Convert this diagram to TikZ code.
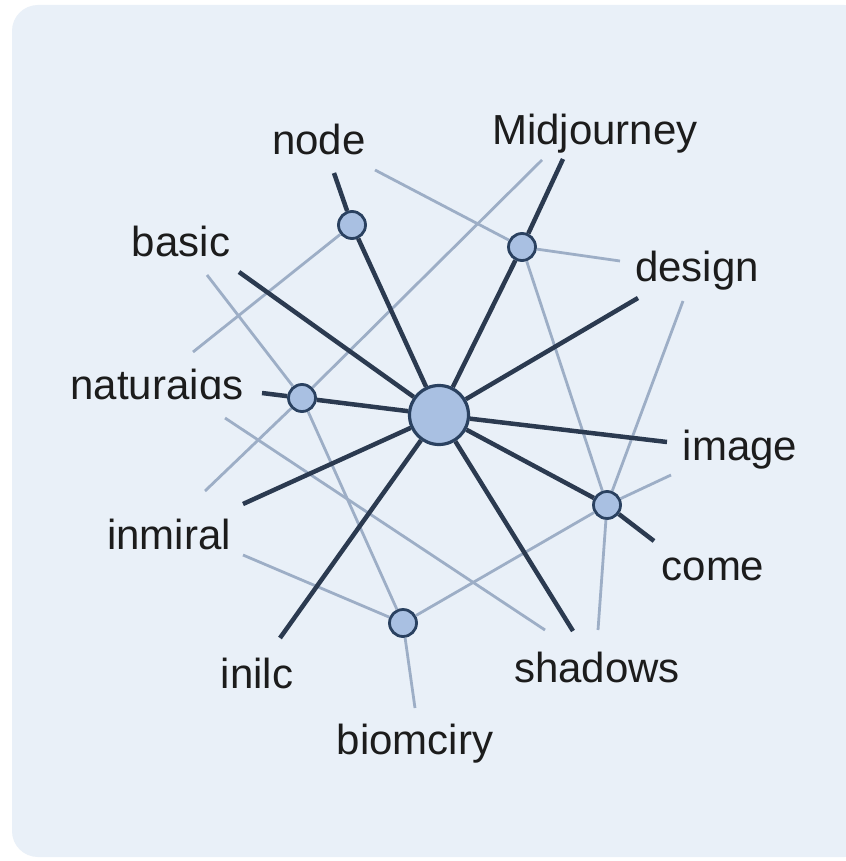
\documentclass[tikz,border=0pt]{standalone}
\usepackage{fontspec}
\setmainfont{Liberation Sans}
\usetikzlibrary{positioning}
\definecolor{netBg}{HTML}{E9F0F8}
\definecolor{netFill}{HTML}{A9C0E2}
\definecolor{netRim}{HTML}{2A4160}
\definecolor{netDark}{HTML}{2B3A50}
\definecolor{netLight}{HTML}{9DAEC6}
\definecolor{netInk}{HTML}{1C1C1C}

\begin{document}
\begin{tikzpicture}[x=1pt,y=-1pt,
  hub/.style={circle,draw=netRim,fill=netFill,line width=3.2pt,
              minimum size=59pt,inner sep=0pt},
  knot/.style={circle,draw=netRim,fill=netFill,line width=2.8pt,
               minimum size=27pt,inner sep=0pt},
  word/.style={anchor=base,inner sep=0pt,text=netInk,
               font=\fontsize{42}{50}\selectfont},
  spoke/.style={draw=netDark,line width=4.5pt},
  thread/.style={draw=netLight,line width=2.8pt},
]
\useasboundingbox (0,0) rectangle (845,861);
\fill[white] (0,0) rectangle (845,861);
\fill[netBg,rounded corners=26pt] (12,5) rectangle (870,857);

% hubs
\node[hub]  (core) at (439,415) {};
\node[knot] (kA) at (352,225) {};
\node[knot] (kB) at (522,247) {};
\node[knot] (kC) at (302,398) {};
\node[knot] (kD) at (607,505) {};
\node[knot] (kE) at (403,623) {};

% labels
\node[word] (tNode)  at (319,155) {node};
\node[word] (tMid)   at (595,145) {Midjourney};
\node[word] (tBasic) at (181,256) {basic};
\node[word] (tDes)   at (697,281) {design};
\node[word] (tNat)   at (157,399) {naturaiɑs};
\node[word] (tImg)   at (740,460) {image};
\node[word] (tInm)   at (169,549) {inmiral};
\node[word] (tCome)  at (713,580) {come};
\node[word] (tInilc) at (257,688) {inilc};
\node[word] (tShad)  at (597,682) {shadows};
\node[word] (tBio)   at (415,754) {biomciry};

% free ends
\coordinate (eNode) at (334,173);
\coordinate (eMid)  at (563,159);
\coordinate (eDes)  at (638,298);
\coordinate (eImg)  at (667,442);
\coordinate (eCome) at (654,541);
\coordinate (eShad) at (573,631);
\coordinate (eInil) at (280,638);
\coordinate (eInm)  at (243,504);
\coordinate (eNat)  at (262,393);
\coordinate (eBas)  at (239,272);
\coordinate (fA)  at (193,352);
\coordinate (fB1) at (375,170);
\coordinate (fB2) at (620,261);
\coordinate (fC1) at (542,160);
\coordinate (fC2) at (205,491);
\coordinate (fD1) at (207,275);
\coordinate (fD2) at (415,708);
\coordinate (fE1) at (225,418);
\coordinate (fE2) at (545,630);
\coordinate (fF1) at (243,555);
\coordinate (fF2) at (671,475);
\coordinate (fG)  at (683,301);
\coordinate (fH)  at (598,630);

% light threads
\draw[thread] (kA) -- (fA);
\draw[thread] (fB1) -- (kB);
\draw[thread] (kB) -- (fB2);
\draw[thread] (fC1) -- (kC);
\draw[thread] (kC) -- (fC2);
\draw[thread] (fD1) -- (kC);
\draw[thread] (kC) -- (kE);
\draw[thread] (kE) -- (fD2);
\draw[thread] (fE1) -- (fE2);
\draw[thread] (fF1) -- (kE);
\draw[thread] (kE) -- (kD);
\draw[thread] (kD) -- (fF2);
\draw[thread] (kB) -- (kD);
\draw[thread] (fG) -- (kD);
\draw[thread] (kD) -- (fH);

% dark spokes
\draw[spoke] (core) -- (kA);
\draw[spoke] (kA) -- (eNode);
\draw[spoke] (core) -- (kB);
\draw[spoke] (kB) -- (eMid);
\draw[spoke] (core) -- (eDes);
\draw[spoke] (core) -- (eImg);
\draw[spoke] (core) -- (kD);
\draw[spoke] (kD) -- (eCome);
\draw[spoke] (core) -- (eShad);
\draw[spoke] (core) -- (eInil);
\draw[spoke] (core) -- (eInm);
\draw[spoke] (core) -- (kC);
\draw[spoke] (kC) -- (eNat);
\draw[spoke] (core) -- (eBas);
\end{tikzpicture}
\end{document}
